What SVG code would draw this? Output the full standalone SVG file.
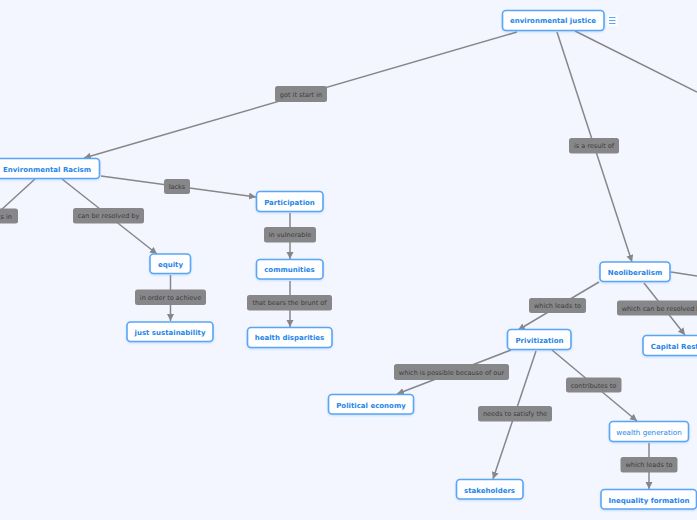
<svg xmlns="http://www.w3.org/2000/svg" width="697" height="520" viewBox="0 0 697 520">
<style>
.n rect{fill:#fff;stroke:#5aa5f5;stroke-width:1.6;filter:url(#s)}
.n text{font:bold 7px "DejaVu Sans",sans-serif;fill:#2585ea;text-anchor:middle}
.n text.r{font-weight:normal;font-size:7.200px}
.l rect{fill:#87878a}
.l text{font:6.500px "DejaVu Sans",sans-serif;fill:#3c3c3e;text-anchor:middle}
#c line{stroke:#87878a;stroke-width:1.5}
#c line.a{marker-end:url(#m)}
</style>
<defs>
<marker id="m" markerUnits="userSpaceOnUse" markerWidth="8" markerHeight="8" refX="7" refY="3.500" orient="auto"><path d="M0 0L7 3.500L0 7z" fill="#87878a"/></marker>
<filter id="s" x="-10%" y="-20%" width="120%" height="150%"><feDropShadow dx="0" dy="1" stdDeviation="1" flood-color="#5aa5f5" flood-opacity=".3"/></filter>
</defs>
<rect width="697" height="520" fill="#f3f6ff"/>
<g id="c">
<line class="a" x1="517" y1="32" x2="84" y2="158"/>
<line class="a" x1="557" y1="32" x2="632" y2="262"/>
<line x1="575" y1="31" x2="697" y2="92"/>
<line class="a" x1="101" y1="176" x2="256" y2="197"/>
<line x1="35" y1="179" x2="0" y2="211"/>
<line class="a" x1="62" y1="179" x2="157" y2="254"/>
<line class="a" x1="170.500" y1="275" x2="170.500" y2="321"/>
<line class="a" x1="290" y1="213" x2="290" y2="259"/>
<line class="a" x1="290" y1="281" x2="290" y2="327"/>
<line class="a" x1="599" y1="282" x2="518" y2="330"/>
<line class="a" x1="644" y1="283" x2="685" y2="335"/>
<line x1="671" y1="272" x2="697" y2="276"/>
<line class="a" x1="511" y1="350" x2="397" y2="394"/>
<line class="a" x1="536" y1="351" x2="493" y2="479"/>
<line class="a" x1="552" y1="350" x2="637" y2="421"/>
<line class="a" x1="649" y1="443" x2="649" y2="489"/>
</g>
<g id="label-got" class="l"><rect x="275" y="86" width="52" height="16" rx="2.500"/><text x="301" y="96.500">got it start in</text></g>
<g id="label-result" class="l"><rect x="569" y="138" width="50" height="15.500" rx="2.500"/><text x="594" y="148">is a result of</text></g>
<g id="label-lacks" class="l"><rect x="164" y="179" width="26" height="15" rx="2.500"/><text x="177" y="189">lacks</text></g>
<g id="label-in" class="l"><rect x="-24" y="208.500" width="42" height="15" rx="2.500"/><text x="-3" y="218.500">results in</text></g>
<g id="label-resolved" class="l"><rect x="73" y="208" width="71" height="15.500" rx="2.500"/><text x="108.500" y="218">can be resolved by</text></g>
<g id="label-achieve" class="l"><rect x="135" y="289.500" width="71" height="15.500" rx="2.500"/><text x="170.500" y="300">in order to achieve</text></g>
<g id="label-vulnerable" class="l"><rect x="264" y="227" width="52" height="15.500" rx="2.500"/><text x="290" y="237">in vulnerable</text></g>
<g id="label-brunt" class="l"><rect x="247" y="295" width="85" height="15.500" rx="2.500"/><text x="289.500" y="305">that bears the brunt of</text></g>
<g id="label-leads1" class="l"><rect x="529" y="298" width="57" height="15" rx="2.500"/><text x="557.500" y="308">which leads to</text></g>
<g id="label-resolved2" class="l"><rect x="617" y="300.500" width="92" height="15" rx="2.500"/><text x="663" y="310.500">which can be resolved by</text></g>
<g id="label-possible" class="l"><rect x="394" y="364" width="115" height="16" rx="2.500"/><text x="451.500" y="374.500">which is possible because of our</text></g>
<g id="label-satisfy" class="l"><rect x="478" y="406" width="74" height="15.500" rx="2.500"/><text x="515" y="416">needs to satisfy the</text></g>
<g id="label-contributes" class="l"><rect x="566" y="377.500" width="55.500" height="15" rx="2.500"/><text x="593.500" y="387.500">contributes to</text></g>
<g id="label-leads2" class="l"><rect x="620.500" y="457" width="57" height="15.500" rx="2.500"/><text x="649" y="467">which leads to</text></g>
<g id="n-justice" class="n"><rect x="502.500" y="10.500" width="101.500" height="20" rx="3.500"/><text x="553" y="23">environmental justice</text></g>
<g id="n-menu"><rect x="607" y="15" width="11" height="11" fill="#fbfcff"/><path d="M609 17.500h6.500M609 20.500h6.500M609 23.500h6.500" stroke="#5aa5f5" stroke-width="1"/></g>
<g id="n-racism" class="n"><rect x="-6" y="158.500" width="105.500" height="20" rx="3.500"/><text x="47" y="171.500">Environmental Racism</text></g>
<g id="n-participation" class="n"><rect x="256.500" y="191.500" width="66.500" height="20" rx="3.500"/><text x="289.500" y="204.500">Participation</text></g>
<g id="n-communities" class="n"><rect x="256.500" y="259.500" width="66.500" height="19.500" rx="3.500"/><text x="289.500" y="272">communities</text></g>
<g id="n-health" class="n"><rect x="247.500" y="327.500" width="84.500" height="20" rx="3.500"/><text x="289.500" y="340">health disparities</text></g>
<g id="n-equity" class="n"><rect x="150" y="254" width="40.500" height="19.500" rx="3.500"/><text x="170.500" y="267">equity</text></g>
<g id="n-sustainability" class="n"><rect x="127" y="322" width="86" height="19.500" rx="3.500"/><text x="170" y="335">just sustainability</text></g>
<g id="n-neoliberalism" class="n"><rect x="600" y="262" width="70" height="19.500" rx="3.500"/><text x="635" y="275">Neoliberalism</text></g>
<g id="n-capital" class="n"><rect x="643" y="335.500" width="92" height="20" rx="3.500"/><text x="689" y="348.500">Capital Restoration</text></g>
<g id="n-privitization" class="n"><rect x="507.500" y="329.500" width="63.500" height="20" rx="3.500"/><text x="539.500" y="342.500">Privitization</text></g>
<g id="n-political" class="n"><rect x="328.500" y="394.500" width="85" height="19.500" rx="3.500"/><text x="371" y="407.500">Political economy</text></g>
<g id="n-stakeholders" class="n"><rect x="456.500" y="479.500" width="66.500" height="19.500" rx="3.500"/><text x="489.500" y="492.500">stakeholders</text></g>
<g id="n-wealth" class="n"><rect x="609.500" y="421.500" width="79" height="20" rx="3.500"/><text class="r" x="649" y="434.500">wealth generation</text></g>
<g id="n-inequality" class="n"><rect x="601" y="489.500" width="95.500" height="19.500" rx="3.500"/><text x="649" y="502.500">Inequality formation</text></g>
</svg>
